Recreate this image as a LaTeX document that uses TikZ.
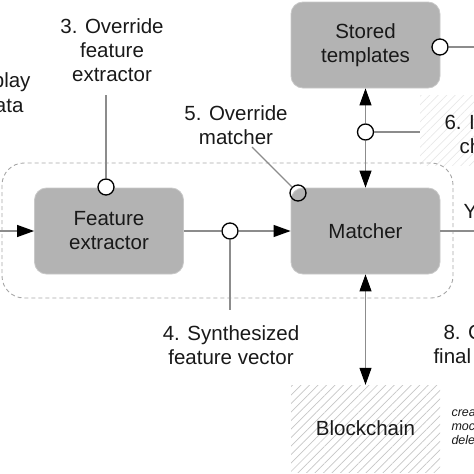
\documentclass[tikz,border=0pt]{standalone}
\usepackage{fontspec}
\setmainfont{Liberation Sans}
\usepackage{xcolor}
\usetikzlibrary{arrows.meta,patterns.meta}

\definecolor{boxgray}{RGB}{179,179,179}
\definecolor{edgegray}{RGB}{200,200,200}
\definecolor{linegray}{RGB}{140,140,140}
\definecolor{ink}{RGB}{25,25,25}

\tikzset{
  block/.style={draw=edgegray, line width=0.8pt, fill=boxgray, rounded corners=12pt,
    minimum width=149pt, minimum height=86pt, align=center, text=ink,
    font=\fontsize{20.5}{24}\selectfont},
  chainbox/.style={minimum width=149pt, minimum height=87pt, text=ink,
    pattern={Lines[angle=45,distance=6pt,line width=0.7pt]}, pattern color=gray!45,
    font=\fontsize{20.5}{24}\selectfont},
  probe/.style={circle, draw=black, line width=1.3pt, minimum size=16pt, inner sep=0pt},
  wire/.style={draw=linegray, line width=1.1pt},
  flow/.style={wire, -{Triangle[length=17pt,width=12pt,color=black]}},
  label/.style={align=center, text=ink, font=\fontsize{20.5}{24}\selectfont},
  note/.style={align=left, text=ink, font=\fontsize{12.5}{14}\selectfont\itshape}
}

\begin{document}
\begin{tikzpicture}[x=1pt,y=-1pt]
\useasboundingbox (0,0) rectangle (474,474);
\clip (0,0) rectangle (474,474);

% faint hatching behind label 6
\fill[pattern={Lines[angle=45,distance=6pt,line width=0.7pt]}, pattern color=gray!18]
  (420,95) rectangle (474,165);

% dashed frame round extractor and matcher
\draw[gray!70, line width=0.9pt, dash pattern=on 4pt off 3pt, rounded corners=22pt]
  (2,163) rectangle (453,298);

% blocks
\node[block] (fe) at (109,231) {Feature\\extractor};
\node[block] (match) at (365.5,231) {Matcher};
\node[block] (st) at (365.5,45) {Stored\\templates};
\node[chainbox] (bc) at (365.5,428.5) {Blockchain};

% attack points
\node[probe, fill=white] (c3) at (106,187) {};
\node[probe, fill=white] (c4) at (230,231) {};
\node[probe] (c5) at (298,193) {};
\node[probe, fill=white] (c6) at (365.5,132) {};
\node[probe, fill=white] (c7) at (440,47) {};

\coordinate (in) at (0,231);
\coordinate (out) at (474,231);
\coordinate (p3) at (106,95);
\coordinate (p4) at (230,310);
\coordinate (p5) at (252,147);
\coordinate (p6) at (420,132);
\coordinate (p7) at (474,47);

% connectors
\draw[flow] (in) -- (fe);
\draw[wire] (fe) -- (c4);
\draw[flow] (c4) -- (match);
\draw[wire] (c4) -- (p4);
\draw[wire] (p3) -- (c3);
\draw[wire] (p5) -- (c5);
\draw[flow] (c6) -- (st);
\draw[flow] (c6) -- (match);
\draw[wire] (c6) -- (p6);
\draw[wire] (c7) -- (p7);
\draw[wire] (match) -- (out);
\draw[wire, {Triangle[length=17pt,width=12pt,color=black]}-{Triangle[length=17pt,width=12pt,color=black]}] (match) -- (bc);

% labels
\node[label, anchor=east] (l2a) at (34,82) {play};
\node[label, anchor=east] (l2b) at (27,106) {ata};
\node[label] (l3) at (112,50) {3. Override\\feature\\extractor};
\node[label] (l4) at (231,345) {4. Synthesized\\feature vector};
\node[label] (l5) at (236,125) {5. Override\\matcher};
\node[label, anchor=west] (l6a) at (441,122) {6. I};
\node[label, anchor=west] (l6b) at (456,146) {ch};
\node[label, anchor=west] (ly) at (460,211) {Y};
\node[label, anchor=west] (l8a) at (440,332) {8. C};
\node[label, anchor=west] (l8b) at (430,356) {final};
\node[note, anchor=west] (ops) at (448,427) {crea\\moc\\dele};
\end{tikzpicture}
\end{document}
